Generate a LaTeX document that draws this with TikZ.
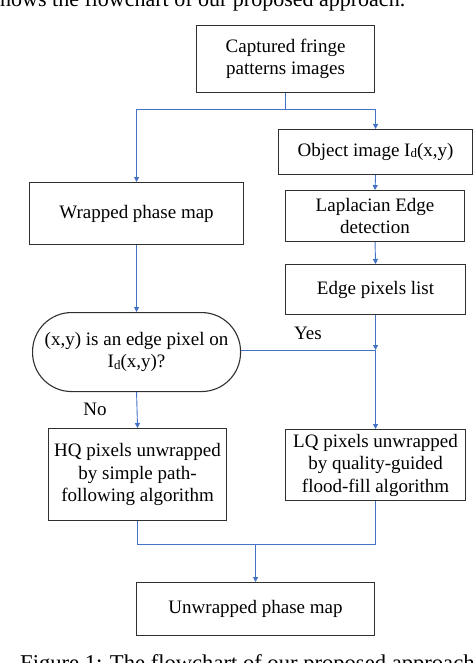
\documentclass[tikz,border=0pt]{standalone}
\usepackage{fontspec}
\setmainfont{Liberation Serif}
\usetikzlibrary{arrows.meta}
\definecolor{linkblue}{HTML}{4472C4}
\definecolor{boxline}{HTML}{303030}
\newcommand{\Id}{I\raisebox{-0.15ex}{\fontsize{13}{13}\selectfont d}}
\begin{document}
\begin{tikzpicture}[x=1pt,y=-1pt,
  every node/.style={font=\fontsize{19}{22.5}\selectfont, inner sep=0pt},
  stepbox/.style={draw=boxline, line width=1.1pt, align=center, anchor=north west},
  link/.style={draw=linkblue, line width=0.9pt},
  arr/.style={link, -{Triangle[length=5pt,width=5pt]}},
  lbl/.style={font=\fontsize{19}{22.5}\selectfont}
]
\useasboundingbox (0,0) rectangle (474,663);
\fill[white] (0,0) rectangle (474,663);

% cut-off surrounding text
\node[anchor=base west, font=\fontsize{22}{26}\selectfont] (toptext) at (0,7) {hows the flowchart of our proposed approach.};
\node[anchor=base west, font=\fontsize{22.6}{26}\selectfont] (caption) at (20,670) {Figure 1: The flowchart of our proposed approach};

% boxes
\node[stepbox, minimum width=178pt, minimum height=67pt] (cap) at (196,25) {};
\node[align=center] at (cap.center) {Captured fringe\\patterns images};

\node[stepbox, minimum width=194pt, minimum height=45pt] (obj) at (278,129) {};
\node at (obj.center) {Object image \Id(x,y)};

\node[stepbox, minimum width=214pt, minimum height=62pt] (wrap) at (29,182) {};
\node at (wrap.center) {Wrapped phase map};

\node[stepbox, minimum width=179pt, minimum height=51pt] (lap) at (285,190) {};
\node[align=center] at (lap.center) {Laplacian Edge\\detection};

\node[stepbox, minimum width=180pt, minimum height=50pt] (edge) at (285,264) {};
\node at (edge.center) {Edge pixels list};

\node[stepbox, rounded corners=39pt, minimum width=208pt, minimum height=79pt] (dec) at (32,312) {};
\node[align=center] at (dec.center) {(x,y) is an edge pixel on\\\Id(x,y)?};

\node[stepbox, minimum width=178pt, minimum height=92pt] (hq) at (48,428) {};
\node[align=center] at (hq.center) {HQ pixels unwrapped\\by simple path-\\following algorithm};

\node[stepbox, minimum width=180pt, minimum height=71pt] (lq) at (285,429) {};
\node[align=center] at (lq.center) {LQ pixels unwrapped\\by quality-guided\\flood-fill algorithm};

\node[stepbox, minimum width=238pt, minimum height=53pt] (unw) at (136,582) {};
\node at (unw.center) {Unwrapped phase map};

% junction coordinates
\coordinate (split) at (cap.south |- 0,109);
\coordinate (yesj) at (lq.north |- 0,350);
\coordinate (merge) at (unw.north |- 0,544);

% connectors
\draw[link] (cap.south) -- (split);
\draw[arr] (split) -| (wrap.north);
\draw[arr] (split) -| (obj.north);
\draw[arr] (obj.south) -- (lap.north);
\draw[arr] (lap.south) -- (edge.north);
\draw[arr] (wrap.south) -- (dec.north);
\draw[arr] (edge.south) -- (yesj);
\draw[link] (dec.east |- yesj) -- (yesj);
\draw[arr] (yesj) -- (lq.north);
\draw[arr] (dec.south) -- (hq.north);
\draw[link] (hq.south) |- (merge);
\draw[link] (lq.south) |- (merge);
\draw[arr] (merge) -- (unw.north);

% labels
\node[lbl] (yes) at (308,333) {Yes};
\node[lbl] (no) at (95,409) {No};
\end{tikzpicture}
\end{document}
